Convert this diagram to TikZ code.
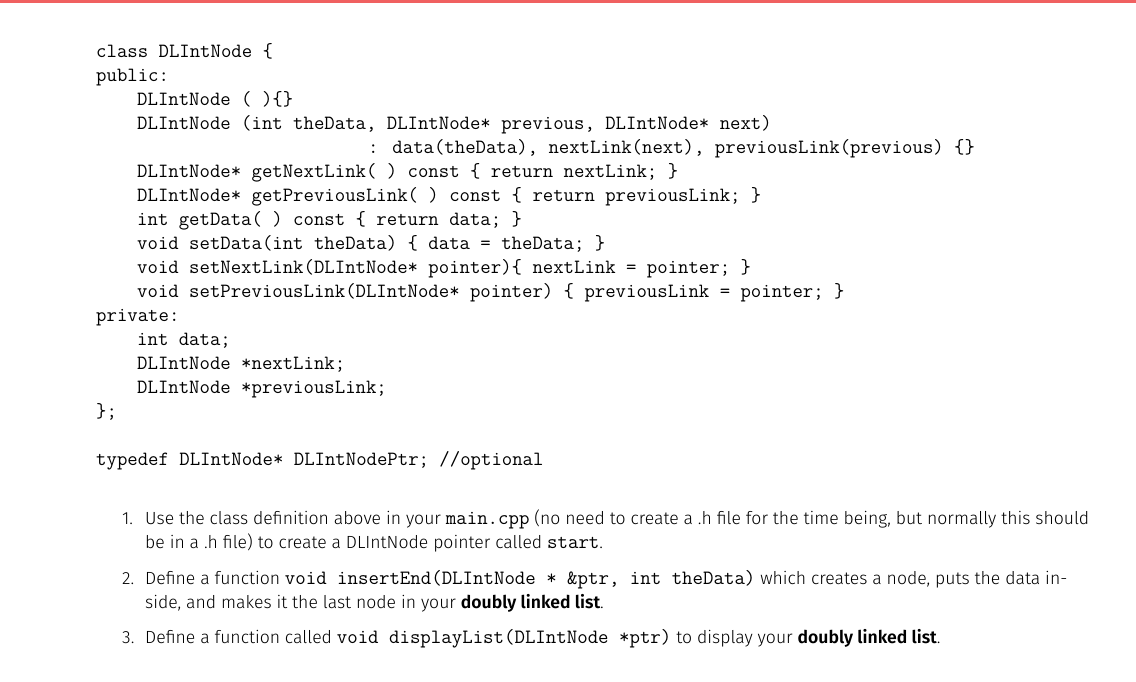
\documentclass[tikz,border=0pt]{standalone}
\usepackage{fontspec}
\setmainfont{Fira Sans}[UprightFont=* Light,BoldFont=* SemiBold]
\newcommand{\mtt}[1]{{\fontsize{20.3}{24}\ttfamily #1}}
\begin{document}
\begin{tikzpicture}[x=1pt,y=-1pt,
  code/.style={anchor=base west,inner sep=0pt,font=\fontsize{20.2}{24}\ttfamily},
  txt/.style={anchor=base west,inner sep=0pt,font=\fontsize{17.6}{24}\selectfont}]
\useasboundingbox (0,0) rectangle (1136,681);
\fill[fill={rgb,255:red,240;green,96;blue,96}] (0,0) rectangle (1136,3);
\foreach \n/\x/\y/\t in {
 c1/96/57/{class DLIntNode \{},
 c2/96/81/{public:},
 c3/137/105/{DLIntNode ( )\{\}},
 c4/137/129/{DLIntNode (int theData, DLIntNode* previous, DLIntNode* next)},
 c5/368/153/{: data(theData), nextLink(next), previousLink(previous) \{\}},
 c6/137/177/{DLIntNode* getNextLink( ) const \{ return nextLink; \}},
 c7/137/201/{DLIntNode* getPreviousLink( ) const \{ return previousLink; \}},
 c8/137/225/{int getData( ) const \{ return data; \}},
 c9/137/249/{void setData(int theData) \{ data = theData; \}},
 c10/137/273/{void setNextLink(DLIntNode* pointer)\{ nextLink = pointer; \}},
 c11/137/297/{void setPreviousLink(DLIntNode* pointer) \{ previousLink = pointer; \}},
 c12/96/321/{private:},
 c13/137/345/{int data;},
 c14/137/369/{DLIntNode *nextLink;},
 c15/137/393/{DLIntNode *previousLink;},
 c16/96/417/{\};},
 c17/96/465/{typedef DLIntNode* DLIntNodePtr; //optional}}
  \node[code] (\n) at (\x,\y) {\obeyspaces\t};
\node[txt] (n1) at (122,524) {1.};
\node[txt] (l1a) at (145,524) {Use the class definition above in your \mtt{main.cpp} (no need to create a .h file for the time being, but normally this should};
\node[txt] (l1b) at (145,548) {be in a .h file) to create a DLIntNode pointer called \mtt{start}.};
\node[txt] (n2) at (122,584) {2.};
\node[txt] (l2a) at (145,584) {Define a function \mtt{void insertEnd(DLIntNode * \&ptr, int theData)} which creates a node, puts the data in-};
\node[txt] (l2b) at (145,608) {side, and makes it the last node in your \textbf{doubly linked list}.};
\node[txt] (n3) at (122,643) {3.};
\node[txt] (l3a) at (145,643) {Define a function called \mtt{void displayList(DLIntNode *ptr)} to display your \textbf{doubly linked list}.};
\end{tikzpicture}
\end{document}
